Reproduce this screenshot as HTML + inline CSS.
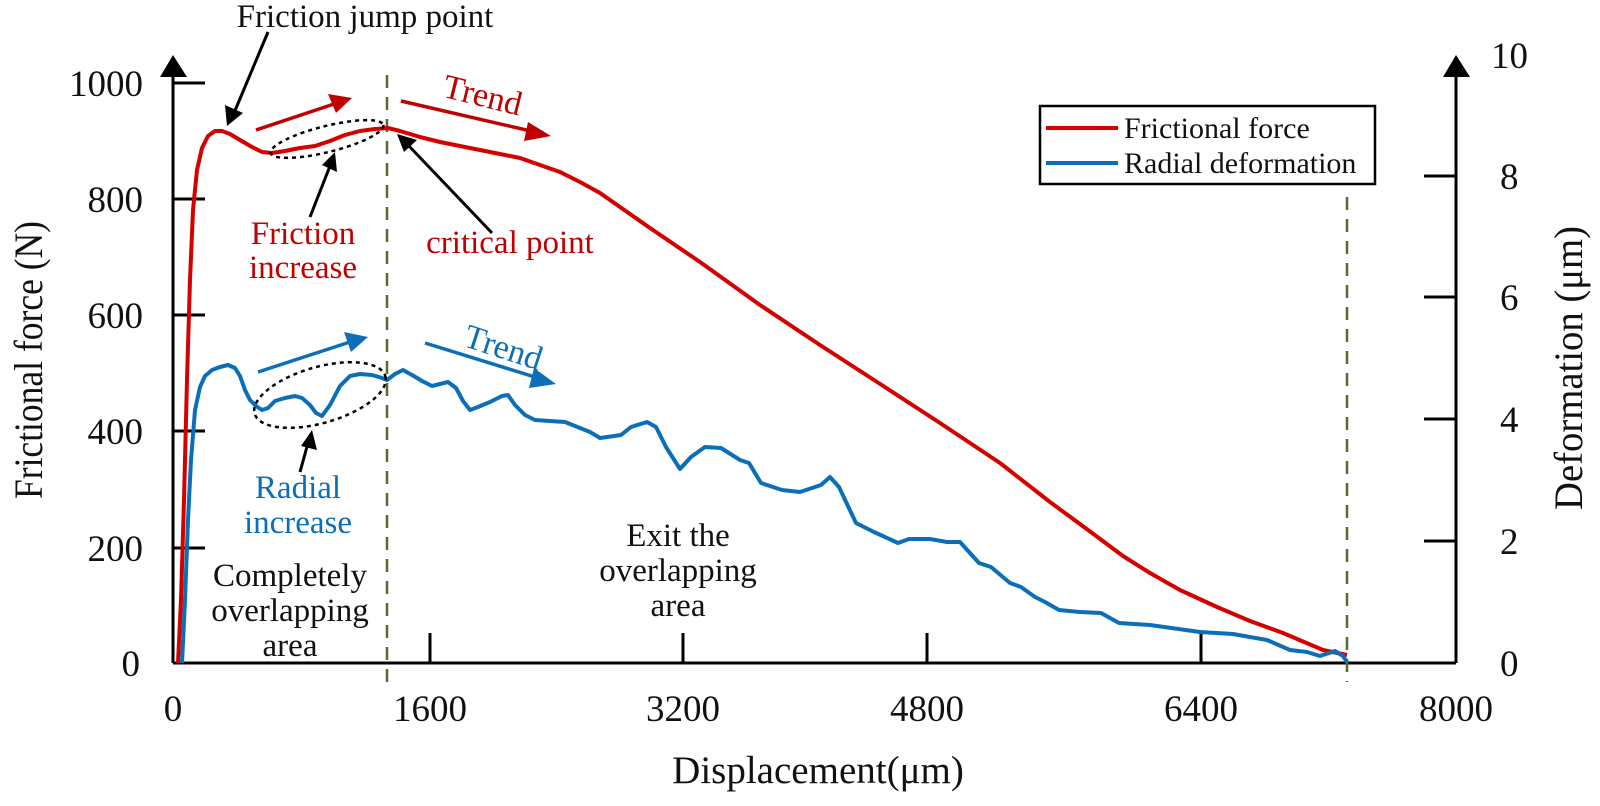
<!DOCTYPE html>
<html><head><meta charset="utf-8"><style>
html,body{margin:0;padding:0;background:#fff;}
svg{display:block;font-family:"Liberation Serif",serif;}
</style></head><body>
<svg width="1600" height="806" viewBox="0 0 1600 806" xmlns="http://www.w3.org/2000/svg">
<!-- axes -->
<g stroke="#000" stroke-width="3" fill="none">
<line x1="173" y1="663" x2="1456" y2="663"/>
<line x1="173" y1="663" x2="173" y2="72"/>
<line x1="1456" y1="663" x2="1456" y2="72"/>
<line x1="173" y1="83" x2="205" y2="83"/>
<line x1="173" y1="199" x2="205" y2="199"/>
<line x1="173" y1="315" x2="205" y2="315"/>
<line x1="173" y1="431" x2="205" y2="431"/>
<line x1="173" y1="548" x2="205" y2="548"/>
<line x1="1424" y1="176" x2="1456" y2="176"/>
<line x1="1424" y1="297" x2="1456" y2="297"/>
<line x1="1424" y1="419" x2="1456" y2="419"/>
<line x1="1424" y1="541" x2="1456" y2="541"/>
<line x1="430" y1="663" x2="430" y2="633"/>
<line x1="683" y1="663" x2="683" y2="633"/>
<line x1="927" y1="663" x2="927" y2="633"/>
<line x1="1201" y1="663" x2="1201" y2="633"/>
</g>
<path d="M173,55 L160,77 L187,77 z" fill="#000"/>
<path d="M1456,55 L1443,77 L1470,77 z" fill="#000"/>
<!-- dashed -->
<g stroke="#556b2f" stroke-width="2.5" stroke-dasharray="13,9">
<line x1="387" y1="75" x2="387" y2="682"/>
<line x1="1347" y1="197" x2="1347" y2="682"/>
</g>
<!-- tick labels -->
<g font-size="37" fill="#111" text-anchor="end">
<text x="143" y="96">1000</text>
<text x="143" y="212">800</text>
<text x="143" y="328">600</text>
<text x="143" y="444">400</text>
<text x="143" y="561">200</text>
<text x="140" y="676">0</text>
</g>
<g font-size="37" fill="#111" text-anchor="start">
<text x="1491" y="68">10</text>
<text x="1500" y="189">8</text>
<text x="1500" y="310">6</text>
<text x="1500" y="432">4</text>
<text x="1500" y="554">2</text>
<text x="1500" y="676">0</text>
</g>
<g font-size="37" fill="#111" text-anchor="middle">
<text x="173" y="721">0</text>
<text x="430" y="721">1600</text>
<text x="683" y="721">3200</text>
<text x="927" y="721">4800</text>
<text x="1201" y="721">6400</text>
<text x="1456" y="721">8000</text>
</g>
<text x="818" y="783" font-size="39" text-anchor="middle" fill="#111">Displacement(μm)</text>
<text transform="translate(42,360) rotate(-90)" font-size="40" text-anchor="middle" fill="#111" textLength="278" lengthAdjust="spacingAndGlyphs">Frictional force (N)</text>
<text transform="translate(1582,368) rotate(-90)" font-size="40" text-anchor="middle" fill="#111" textLength="284" lengthAdjust="spacingAndGlyphs">Deformation  (μm)</text>
<!-- red curve -->
<polyline fill="none" stroke="#d40000" stroke-width="4" stroke-linejoin="round" points="178,663 181,600 184,500 187,380 190,280 193,210 197,170 202,148 208,136 215,131 222,131 230,134 240,140 252,147 262,152 272,153 285,151 300,148 315,146 330,141 345,135 360,131 375,129 388,128 400,131 420,137 440,142 460,146 480,150 500,154 520,158 540,165 560,172 580,182 600,193 650,228 700,262 760,305 820,345 874,380 940,423 1000,463 1050,502 1084,527 1123,556 1150,573 1180,590 1217,607 1250,621 1283,633 1323,650 1347,655"/>
<!-- blue curve -->
<polyline fill="none" stroke="#0a6fb8" stroke-width="4" stroke-linejoin="round" points="182,663 185,600 188,520 191,460 195,410 200,387 205,376 212,370 220,367 228,365 235,368 240,376 245,390 250,400 256,406 262,410 268,408 275,401 285,398 295,396 302,398 310,405 316,413 322,416 330,405 340,386 350,376 360,374 372,375 382,378 387,380 395,374 403,370 412,375 422,381 432,386 440,384 448,382 456,388 463,401 470,410 478,407 490,402 502,396 508,395 515,405 525,415 535,420 550,421 565,422 575,426 590,432 600,438 621,435 631,427 647,422 656,427 666,447 680,469 691,457 705,447 721,448 740,460 749,463 761,483 782,490 800,492 821,485 830,477 839,487 856,523 874,532 898,543 909,539 930,539 947,542 960,542 979,563 991,567 1010,583 1021,587 1035,597 1045,602 1059,610 1080,612 1101,613 1119,623 1150,625 1200,632 1233,634 1267,640 1290,650 1307,652 1320,656 1335,651 1343,656 1347,662"/>
<!-- ellipses -->
<ellipse cx="327" cy="139" rx="58" ry="13" transform="rotate(-14 327 139)" fill="none" stroke="#000" stroke-width="2.5" stroke-dasharray="4,4"/>
<ellipse cx="320" cy="395" rx="68" ry="28" transform="rotate(-16 320 395)" fill="none" stroke="#000" stroke-width="2.5" stroke-dasharray="4,4"/>
<!-- black arrows -->
<g stroke="#000" stroke-width="3">
<line x1="268" y1="32" x2="234" y2="113"/>
<line x1="310" y1="217" x2="330" y2="166"/>
<line x1="492" y1="233" x2="408" y2="145"/>
<line x1="300" y1="472" x2="308" y2="443"/>
</g>
<path d="M227,126 L225,105 L243,113 z" fill="#000"/>
<path d="M335,152 L337,172 L322,165 z" fill="#000"/>
<path d="M397,134 L417,140 L404,152 z" fill="#000"/>
<path d="M312,430 L317,450 L301,446 z" fill="#000"/>
<!-- red arrows -->
<g stroke="#c00000" stroke-width="3.5">
<line x1="256" y1="130" x2="334" y2="104"/>
<line x1="401" y1="101" x2="535" y2="132"/>
</g>
<path d="M352,98 L328,94 L336,113 z" fill="#c00000"/>
<path d="M551,136 L528,122 L524,141 z" fill="#c00000"/>
<!-- blue arrows -->
<g stroke="#0a6fb8" stroke-width="3.5">
<line x1="258" y1="372" x2="350" y2="342"/>
<line x1="425" y1="343" x2="538" y2="378"/>
</g>
<path d="M368,337 L344,332 L351,352 z" fill="#0a6fb8"/>
<path d="M556,384 L534,368 L529,388 z" fill="#0a6fb8"/>
<!-- annotation text -->
<g font-size="33" text-anchor="middle">
<text x="365" y="27" fill="#111">Friction jump point</text>
<text x="303" y="244" fill="#c00000">Friction</text>
<text x="303" y="278" fill="#c00000">increase</text>
<text x="510" y="253" fill="#c00000">critical point</text>
<text x="298" y="498" fill="#0a6fb8">Radial</text>
<text x="298" y="533" fill="#0a6fb8">increase</text>
<text x="290" y="586" fill="#111">Completely</text>
<text x="290" y="621" fill="#111">overlapping</text>
<text x="290" y="656" fill="#111">area</text>
<text x="678" y="546" fill="#111">Exit the</text>
<text x="678" y="581" fill="#111">overlapping</text>
<text x="678" y="616" fill="#111">area</text>
</g>
<text transform="translate(480,106) rotate(14)" font-size="34" text-anchor="middle" fill="#c00000">Trend</text>
<text transform="translate(500,358) rotate(18)" font-size="34" text-anchor="middle" fill="#0a6fb8">Trend</text>
<!-- legend -->
<rect x="1040" y="106" width="335" height="78" fill="#fff" stroke="#000" stroke-width="2.5"/>
<line x1="1046" y1="128" x2="1118" y2="128" stroke="#d40000" stroke-width="4"/>
<line x1="1046" y1="163" x2="1118" y2="163" stroke="#0a6fb8" stroke-width="4"/>
<text x="1124" y="138" font-size="30" fill="#111">Frictional force</text>
<text x="1124" y="173" font-size="30" fill="#111">Radial deformation</text>
</svg>
</body></html>
